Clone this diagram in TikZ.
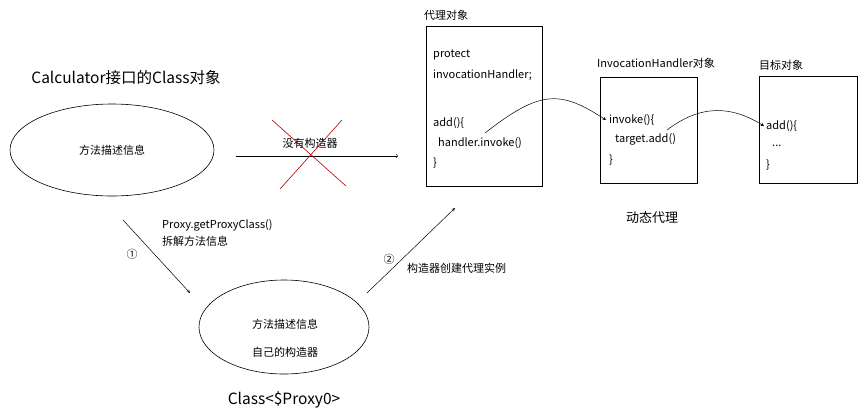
\documentclass[tikz,border=0pt]{standalone}
\usepackage{fontspec}
\setmainfont{Noto Sans CJK SC}
\begin{document}
\begin{tikzpicture}[x=1pt,y=-1pt,
  t/.style={font=\fontsize{11}{12}\selectfont,inner sep=0pt,anchor=west},
  big/.style={font=\fontsize{15.5}{17}\selectfont,inner sep=0pt},
  box/.style={draw,line width=0.6pt},
  ar/.style={->,line width=0.5pt,>=stealth}]
\useasboundingbox (0,0) rectangle (868,413);
\draw[box] (112,150) ellipse (102 and 46);
\node[t,anchor=center] (e1) at (112,150) {方法描述信息};
\node[big] (ttl) at (126,78) {Calculator接口的Class对象};
\coordinate (a1) at (236,156); \coordinate (a2) at (398,156);
\draw[->,line width=0.5pt] (a1) -- (a2);
\node[t,anchor=center] (no) at (310,143) {没有构造器};
\draw[red!70!black,line width=0.6pt] (272,120) -- (346,186) (342,120) -- (280,189);
\draw[box] (426,26) rectangle (542,186);
\node[t] (pt) at (424,15) {代理对象};
\node[t] at (433,55) {protect};
\node[t] at (433,75) {invocationHandler;};
\node[t] at (433,123) {add()\{};
\node[t] at (438,143) {handler.invoke()};
\node[t] at (433,163) {\}};
\draw[box] (600,77) rectangle (697,183);
\node[t,anchor=center] (ht) at (656,63) {InvocationHandler对象};
\node[t] (hi) at (609,120) {invoke()\{};
\node[t] at (615,139) {target.add()};
\node[t] at (609,160) {\}};
\draw[box] (759,76) rectangle (857,183);
\node[t] (tt) at (759,65) {目标对象};
\node[t] (ta) at (766,126) {add()\{};
\node[t] at (772,146) {...};
\node[t] at (766,165) {\}};
\node[t,anchor=center,font=\fontsize{13}{14}\selectfont] (dt) at (652,218) {动态代理};
\draw[ar] (485,133) .. controls (540,90) and (560,90) .. (606,120);
\draw[ar] (667,130) .. controls (700,105) and (730,105) .. (764,126);
\coordinate (b1) at (123,220); \coordinate (b2) at (190,293);
\draw[ar] (b1) -- (b2);
\node[t] at (162,225) {Proxy.getProxyClass()};
\node[t] at (162,241) {拆解方法信息};
\node[t,anchor=center] at (132,254) {①};
\draw[box] (284,327) ellipse (85 and 47);
\node[t,anchor=center] (e2) at (285,324) {方法描述信息};
\node[t,anchor=center] at (285,352) {自己的构造器};
\node[big] at (284,400) {Class<\$Proxy0>};
\coordinate (c1) at (367,293); \coordinate (c2) at (455,208);
\draw[ar] (c1) -- (c2);
\node[t,anchor=center] at (389,259) {②};
\node[t] at (407,268) {构造器创建代理实例};
\end{tikzpicture}
\end{document}
